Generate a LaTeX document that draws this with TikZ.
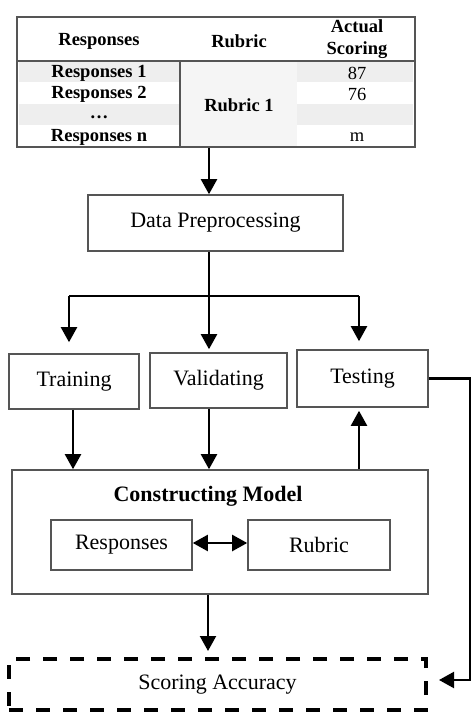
\documentclass[tikz,border=0pt]{standalone}
\usepackage{fontspec}
\setmainfont{Liberation Serif}
\usetikzlibrary{arrows.meta}
\definecolor{boxgray}{HTML}{555555}
\definecolor{rowgray}{HTML}{EEEEEE}
\definecolor{colgray}{HTML}{F5F5F5}
\tikzset{
  box/.style={draw=boxgray, line width=1.6pt, inner sep=0pt, font=\fontsize{22}{24}\selectfont},
  tabtxt/.style={inner sep=0pt, font=\fontsize{18.5}{22}\selectfont\bfseries, align=center},
  tip/.style={},
  arr/.style={draw=black, line width=2.2pt, -{Triangle[length=15pt,width=16pt]}},
  dbl/.style={draw=black, line width=2.2pt, {Triangle[length=15pt,width=16pt]}-{Triangle[length=15pt,width=16pt]}},
  link/.style={draw=black, line width=2.2pt},
  dashbox/.style={draw=black, line width=4pt, dash pattern=on 14pt off 13pt, inner sep=0pt, font=\fontsize{22}{24}\selectfont}
}
\begin{document}
\begin{tikzpicture}[x=1pt,y=-1pt]
\useasboundingbox (0,0) rectangle (474,726);
% table shading
\fill[colgray] (181,62) rectangle (297,146);
\fill[rowgray] (19,62) rectangle (179,82);
\fill[rowgray] (297,62) rectangle (413,82);
\fill[rowgray] (19,104) rectangle (179,125);
\fill[rowgray] (297,104) rectangle (413,125);
% table frame
\node[draw=boxgray, line width=1.6pt, minimum width=398pt, minimum height=130pt, inner sep=0pt] (table) at (216,82) {};
\draw[boxgray, line width=1.1pt] (17,61) -- (415,61);
\draw[boxgray, line width=1.1pt] (180,61) -- (180,147);
\node[tabtxt] (h1) at (99,41) {Responses};
\node[tabtxt] (h2) at (239,41) {Rubric};
\node[tabtxt] (h3) at (357,39) {Actual\\Scoring};
\node[tabtxt] (r1) at (99,73) {Responses 1};
\node[tabtxt] (r2) at (99,94) {Responses 2};
\node[tabtxt] (r3) at (99,117) {\dots};
\node[tabtxt] (r4) at (99,137) {Responses n};
\node[tabtxt] (rb) at (239,105) {Rubric 1};
\node[tabtxt, font=\fontsize{18.5}{22}\selectfont] (s1) at (357,73) {87};
\node[tabtxt, font=\fontsize{18.5}{22}\selectfont] (s2) at (357,94) {76};
\node[tabtxt, font=\fontsize{18.5}{22}\selectfont] (s4) at (357,137) {m};
% coordinates
\coordinate (spine) at (209,0);
\coordinate (j) at (209,296);
% boxes
\node[box, minimum width=255pt, minimum height=56pt] (dp) at (215.5,223) {Data Preprocessing};
\node[box, minimum width=130pt, minimum height=55pt] (train) at (74,381.5) {Training};
\node[box, minimum width=137pt, minimum height=55pt] (valid) at (218.5,380.5) {Validating};
\node[box, minimum width=131pt, minimum height=57pt] (test) at (362.5,378.5) {Testing};
\node[box, minimum width=416pt, minimum height=124pt] (cm) at (220,532) {};
\node[inner sep=0pt, font=\fontsize{22}{24}\selectfont\bfseries] (cmt) at (208,496) {Constructing Model};
\node[box, minimum width=141pt, minimum height=50pt] (resp) at (121.5,545) {Responses};
\node[box, minimum width=142pt, minimum height=50pt] (rub) at (319,545) {Rubric};
\node[dashbox, minimum width=417pt, minimum height=51pt] (sa) at (217.5,684.5) {Scoring Accuracy};
% connectors
\draw[arr] (table.south -| spine) -- (dp.north -| spine);
\draw[link] (dp.south -| spine) -- (j);
\draw[link] (j -| 69,0) -- (j -| 359,0);
\draw[arr, shorten >=11pt] (69,296) -- (train.north -| 69,0);
\draw[arr, shorten >=3pt] (j) -- (valid.north -| spine);
\draw[arr, shorten >=8pt] (359,296) -- (test.north -| 359,0);
\draw[arr] (train.south -| 73,0) -- (cm.north -| 73,0);
\draw[arr] (valid.south -| spine) -- (cm.north -| spine);
\draw[arr, shorten >=3pt] (cm.north -| 359,0) -- (test.south -| 359,0);
\draw[dbl] (resp.east |- 0,543) -- (rub.west |- 0,543);
\draw[arr, shorten >=6pt] (cm.south -| 208,0) -- (sa.north -| 208,0);
\draw[arr, shorten >=11pt] (test.east) -- (470,378.5) |- (sa.east |- 0,680);
\end{tikzpicture}
\end{document}
